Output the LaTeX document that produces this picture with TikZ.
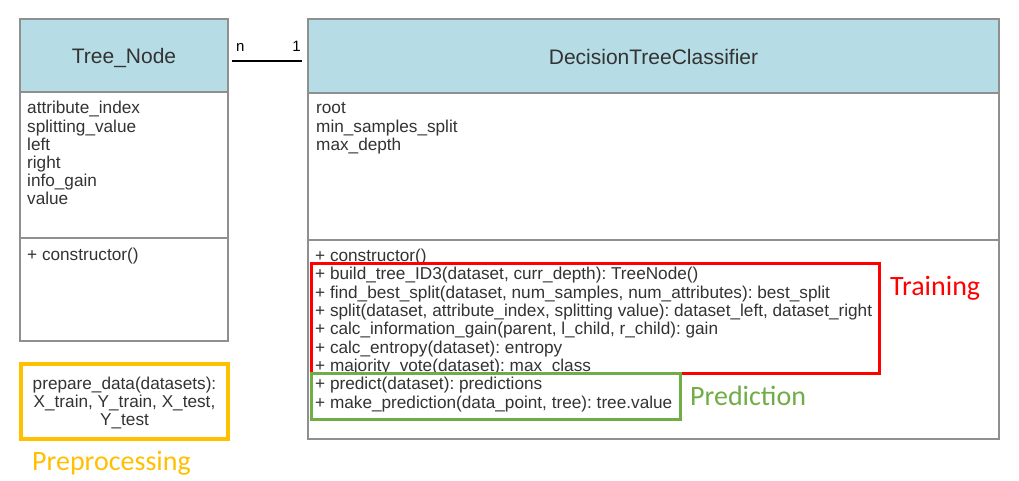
\documentclass[tikz,border=0pt]{standalone}
\usepackage{fontspec}
\setmainfont{Liberation Sans}
\newfontfamily\calib{Carlito}
\frenchspacing
\definecolor{hdr}{HTML}{B6DCE5}
\definecolor{umlgray}{HTML}{8F8F8F}
\definecolor{txt}{HTML}{333333}
\definecolor{trainred}{HTML}{FF0000}
\definecolor{predgreen}{HTML}{70AD47}
\definecolor{prepyellow}{HTML}{FFC000}
\tikzset{
  umlline/.style={draw=umlgray, line width=1.5pt},
  headfill/.style={fill=hdr},
  member/.style={anchor=base west, inner sep=0pt, text=txt, font=\fontsize{17.2}{18}\selectfont},
  ctrmember/.style={anchor=base, inner sep=0pt, text=txt, font=\fontsize{17.2}{18}\selectfont},
  classtitle/.style={anchor=base, inner sep=0pt, text=txt, font=\fontsize{21}{25}\selectfont},
  multlabel/.style={inner sep=0pt, text=black, font=\fontsize{15}{18}\selectfont},
  tagtext/.style={anchor=base west, inner sep=0pt, font=\calib\fontsize{28}{34}\selectfont},
  groupbox/.style={line width=3pt},
}
\begin{document}
\begin{tikzpicture}[x=1pt,y=-1pt]
\useasboundingbox (0,0) rectangle (1019,480);
\fill[white] (0,0) rectangle (1019,480);

% Tree_Node class
\fill[headfill] (20,19) rectangle (228,92);
\draw[umlline] (20,19) rectangle (228,341);
\draw[umlline] (20,92) -- (228,92);
\draw[umlline] (20,238) -- (228,238);
\node[classtitle] (tntitle) at (124,63) {Tree\_Node};
\foreach \t [count=\i from 0] in {attribute\_index, splitting\_value, left, right, info\_gain, value}
  \node[member] (tnattr\i) at (27,{113.8+18.2*\i}) {\t};
\node[member] (tnctor) at (27,260) {+ constructor()};

% DecisionTreeClassifier class
\fill[headfill] (308,19) rectangle (999,93);
\draw[umlline] (308,19) rectangle (999,439);
\draw[umlline] (308,93) -- (999,93);
\draw[umlline] (308,240) -- (999,240);
\node[classtitle] (dttitle) at (653.5,64) {DecisionTreeClassifier};
\foreach \t [count=\i from 0] in {root, min\_samples\_split, max\_depth}
  \node[member] (dtattr\i) at (316,{113.8+18.2*\i}) {\t};
\node[member] (m0) at (315,261.5) {+ constructor()};
\node[member] (m1) at (315,{261.5+18.35*1}) {+ build\_tree\_ID3(dataset, curr\_depth): TreeNode()};
\node[member] (m2) at (315,{261.5+18.35*2}) {+ find\_best\_split(dataset, num\_samples, num\_attributes): best\_split};
\node[member] (m3) at (315,{261.5+18.35*3}) {+ split(dataset, attribute\_index, splitting value): dataset\_left, dataset\_right};
\node[member] (m4) at (315,{261.5+18.35*4}) {+ calc\_information\_gain(parent, l\_child, r\_child): gain};
\node[member] (m5) at (315,{261.5+18.35*5}) {+ calc\_entropy(dataset): entropy};
\node[member] (m6) at (315,{261.5+18.35*6}) {+ majority\_vote(dataset): max\_class};
\node[member] (m7) at (315,{261.5+18.35*7}) {+ predict(dataset): predictions};
\node[member] (m8) at (315,{261.5+18.35*8}) {+ make\_prediction(data\_point, tree): tree.value};

% association
\coordinate (assocL) at (232,61);
\coordinate (assocR) at (302,61);
\draw[line width=1.3pt] (assocL) -- (assocR);
\node[multlabel, anchor=base west] (mn) at (236,51) {n};
\node[multlabel, anchor=base east] (m1lab) at (301,51) {1};

% group boxes
\draw[groupbox, draw=trainred] (311.5,263.5) rectangle (879.5,373.5);
\draw[groupbox, draw=predgreen] (311.5,373.5) rectangle (680,419);
\node[tagtext, text=trainred] (training) at (890,295) {Training};
\node[tagtext, text=predgreen] (prediction) at (690,405) {Prediction};

% preprocessing
\draw[line width=4pt, draw=prepyellow] (20.5,363.5) rectangle (228.3,439);
\node[ctrmember] (prep0) at (124.5,389.5) {prepare\_data(datasets):};
\node[ctrmember] (prep1) at (124.5,407.5) {X\_train, Y\_train, X\_test,};
\node[ctrmember] (prep2) at (124.5,425.5) {Y\_test};
\node[tagtext, text=prepyellow] (preproc) at (32,470) {Preprocessing};
\end{tikzpicture}
\end{document}
